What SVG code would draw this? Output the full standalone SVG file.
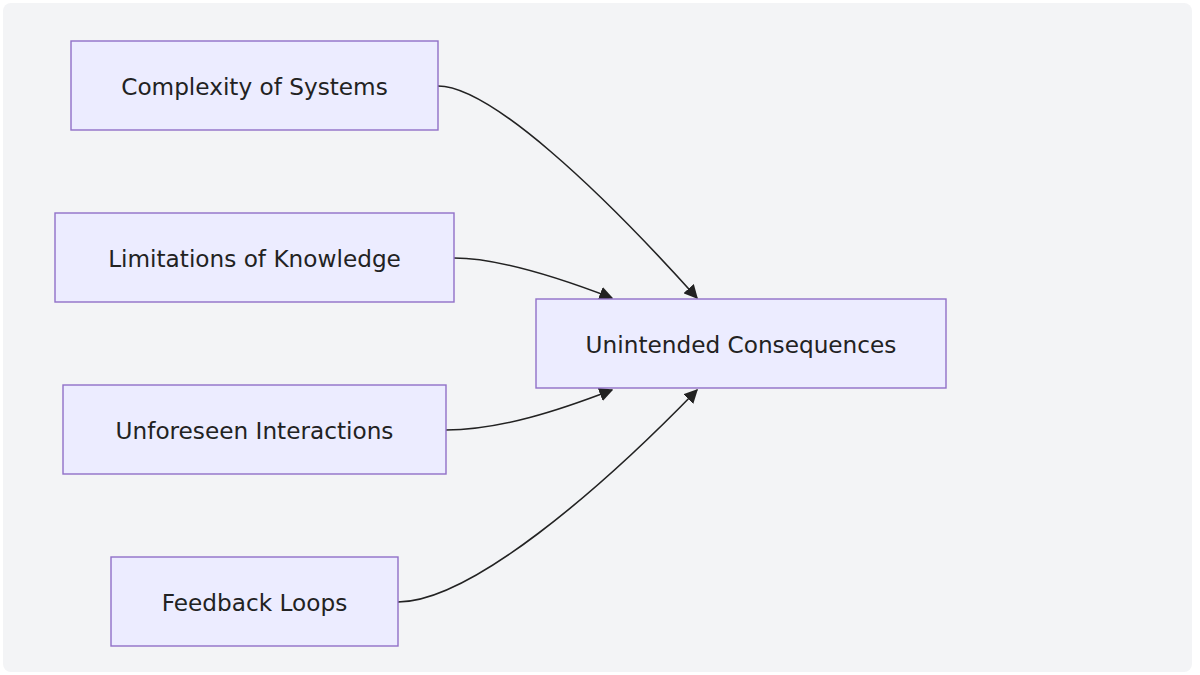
<svg xmlns="http://www.w3.org/2000/svg" width="1200" height="675" viewBox="0 0 1200 675">
<style>
.node rect{fill:#ECECFF;stroke:#9070C8;stroke-width:1.4}
.node text{font-family:"DejaVu Sans",Verdana,sans-serif;font-size:23.2px;fill:#222;text-anchor:middle;dominant-baseline:central}
.edge{fill:none;stroke:#222;stroke-width:1.6;marker-end:url(#arrow)}
</style>
<defs>
<marker id="arrow" viewBox="0 0 10 10" refX="9" refY="5" markerWidth="14" markerHeight="14" markerUnits="userSpaceOnUse" orient="auto">
<path d="M0,0 L10,5 L0,10 z" fill="#222"/>
</marker>
</defs>
<rect width="1200" height="675" fill="#ffffff"/>
<rect x="3" y="3" width="1189" height="669" rx="8" fill="#F3F4F6"/>
<g id="connectors">
<path class="edge" d="M438,86 C490,86 600,190 697,298"/>
<path class="edge" d="M454,258 C500,258 560,278 612,298"/>
<path class="edge" d="M446,430 C500,430 560,410 612,390"/>
<path class="edge" d="M398,602 C470,602 600,490 697,390"/>
</g>
<g id="complexity" class="node"><rect x="71" y="41" width="367" height="89"/><text x="254.5" y="86">Complexity of Systems</text></g>
<g id="limitations" class="node"><rect x="55" y="213" width="399" height="89"/><text x="254.5" y="258">Limitations of Knowledge</text></g>
<g id="unforeseen" class="node"><rect x="63" y="385" width="383" height="89"/><text x="254.5" y="430">Unforeseen Interactions</text></g>
<g id="feedback" class="node"><rect x="111" y="557" width="287" height="89"/><text x="254.5" y="602">Feedback Loops</text></g>
<g id="unintended" class="node"><rect x="536" y="299" width="410" height="89"/><text x="741" y="344">Unintended Consequences</text></g>
</svg>
